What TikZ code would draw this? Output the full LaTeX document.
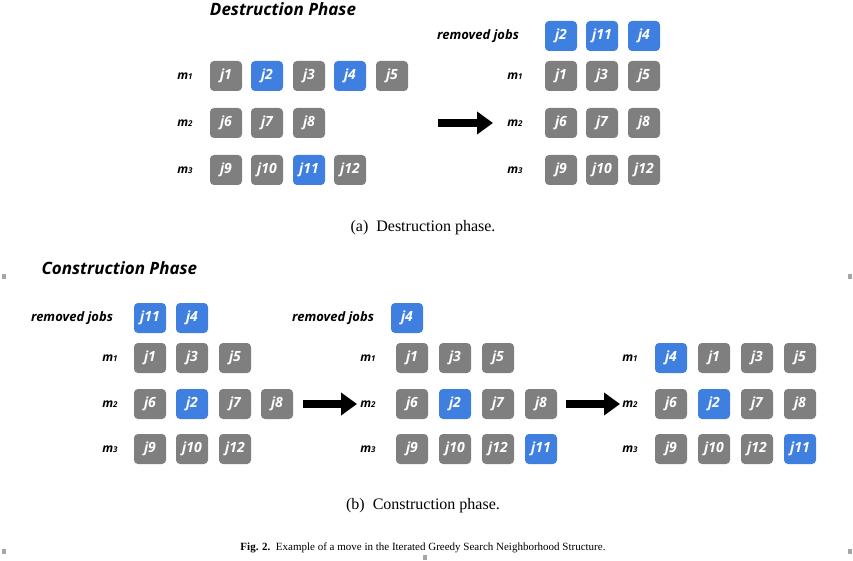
\documentclass[tikz,border=0pt]{standalone}
\usepackage{fontspec}
\setmainfont{Liberation Serif}
\newfontfamily\osans{Open Sans}
\usetikzlibrary{arrows.meta}
\definecolor{jg}{HTML}{7F7F7F}
\definecolor{jb}{HTML}{3F7FE0}
\tikzset{
 job/.style={rounded corners=4pt,minimum width=32pt,minimum height=30pt,inner sep=0pt,text=white,font=\osans\bfseries\itshape\fontsize{14}{14}\selectfont},
 g/.style={job,fill=jg}, b/.style={job,fill=jb},
 ml/.style={font=\osans\bfseries\itshape\fontsize{12}{12}\selectfont},
 rl/.style={font=\osans\bfseries\itshape\fontsize{13}{13}\selectfont},
 tl/.style={font=\osans\bfseries\itshape\fontsize{17}{17}\selectfont},
 big/.style={-{Triangle[length=16pt,width=22pt]},line width=8pt},
 mk/.style={fill=gray!70,draw=none}
}
\newcommand{\mlab}[3]{\node[ml] (#1) at (#2,#3) {m\raisebox{-0.5pt}{\fontsize{8}{8}\selectfont #1}};}
\begin{document}
\begin{tikzpicture}[x=1pt,y=-1pt]
\useasboundingbox (0,0) rectangle (853,561);
% Destruction
\node[tl] (t1) at (283,9) {Destruction Phase};
\node[ml] (am1) at (185,76) {m\raisebox{-0.5pt}{\fontsize{8}{8}\selectfont 1}};
\node[ml] (am2) at (185,123) {m\raisebox{-0.5pt}{\fontsize{8}{8}\selectfont 2}};
\node[ml] (am3) at (185,170) {m\raisebox{-0.5pt}{\fontsize{8}{8}\selectfont 3}};
\node[g] (a1) at (226,76) {j1}; \node[b] (a2) at (267,76) {j2}; \node[g] (a3) at (309,76) {j3}; \node[b] (a4) at (350,76) {j4}; \node[g] (a5) at (392,76) {j5};
\node[g] (a6) at (226,123) {j6}; \node[g] (a7) at (267,123) {j7}; \node[g] (a8) at (309,123) {j8};
\node[g] (a9) at (226,170) {j9}; \node[g] (a10) at (267,170) {j10}; \node[b] (a11) at (309,170) {j11}; \node[g] (a12) at (350,170) {j12};
\coordinate (ar1s) at (438,123); \coordinate (ar1e) at (493,123);
\draw[big] (ar1s) -- (ar1e);
\node[rl] (rr) at (478,36) {removed jobs};
\node[b] (r2) at (561,36) {j2}; \node[b] (r11) at (602,36) {j11}; \node[b] (r4) at (644,36) {j4};
\node[ml] (bm1) at (515,76) {m\raisebox{-0.5pt}{\fontsize{8}{8}\selectfont 1}};
\node[ml] (bm2) at (515,123) {m\raisebox{-0.5pt}{\fontsize{8}{8}\selectfont 2}};
\node[ml] (bm3) at (515,170) {m\raisebox{-0.5pt}{\fontsize{8}{8}\selectfont 3}};
\node[g] (b1) at (561,76) {j1}; \node[g] (b3) at (602,76) {j3}; \node[g] (b5) at (644,76) {j5};
\node[g] (b6) at (561,123) {j6}; \node[g] (b7) at (602,123) {j7}; \node[g] (b8) at (644,123) {j8};
\node[g] (b9) at (561,170) {j9}; \node[g] (b10) at (602,170) {j10}; \node[g] (b12) at (644,170) {j12};
\node[font=\fontsize{16}{16}\selectfont] (ca) at (423,228) {(a)\ \ Destruction phase.};
% Construction
\node[tl,anchor=west] (t2) at (38,268) {Construction Phase};
% panel 1
\node[rl] (p1r) at (72,318) {removed jobs};
\node[b] (c11) at (150,318) {j11}; \node[b] (c4) at (192,318) {j4};
\node[ml] (cm1) at (110,358) {m\raisebox{-0.5pt}{\fontsize{8}{8}\selectfont 1}};
\node[ml] (cm2) at (110,404) {m\raisebox{-0.5pt}{\fontsize{8}{8}\selectfont 2}};
\node[ml] (cm3) at (110,449) {m\raisebox{-0.5pt}{\fontsize{8}{8}\selectfont 3}};
\node[g] (c1) at (150,358) {j1}; \node[g] (c3) at (192,358) {j3}; \node[g] (c5) at (235,358) {j5};
\node[g] (c6) at (150,404) {j6}; \node[b] (c2) at (192,404) {j2}; \node[g] (c7) at (235,404) {j7}; \node[g] (c8) at (277,404) {j8};
\node[g] (c9) at (150,449) {j9}; \node[g] (c10) at (192,449) {j10}; \node[g] (c12) at (235,449) {j12};
\coordinate (ar2s) at (303,404); \coordinate (ar2e) at (357,404);
\draw[big] (ar2s) -- (ar2e);
% panel 2
\node[rl] (p2r) at (333,318) {removed jobs};
\node[b] (d4) at (407,318) {j4};
\node[ml] (dm1) at (368,358) {m\raisebox{-0.5pt}{\fontsize{8}{8}\selectfont 1}};
\node[ml] (dm2) at (368,404) {m\raisebox{-0.5pt}{\fontsize{8}{8}\selectfont 2}};
\node[ml] (dm3) at (368,449) {m\raisebox{-0.5pt}{\fontsize{8}{8}\selectfont 3}};
\node[g] (d1) at (412,358) {j1}; \node[g] (d3) at (455,358) {j3}; \node[g] (d5) at (498,358) {j5};
\node[g] (d6) at (412,404) {j6}; \node[b] (d2) at (455,404) {j2}; \node[g] (d7) at (498,404) {j7}; \node[g] (d8) at (541,404) {j8};
\node[g] (d9) at (412,449) {j9}; \node[g] (d10) at (455,449) {j10}; \node[g] (d12) at (498,449) {j12}; \node[b] (d11) at (541,449) {j11};
\coordinate (ar3s) at (566,404); \coordinate (ar3e) at (620,404);
\draw[big] (ar3s) -- (ar3e);
% panel 3
\node[ml] (em1) at (630,358) {m\raisebox{-0.5pt}{\fontsize{8}{8}\selectfont 1}};
\node[ml] (em2) at (630,404) {m\raisebox{-0.5pt}{\fontsize{8}{8}\selectfont 2}};
\node[ml] (em3) at (630,449) {m\raisebox{-0.5pt}{\fontsize{8}{8}\selectfont 3}};
\node[b] (e4) at (671,358) {j4}; \node[g] (e1) at (714,358) {j1}; \node[g] (e3) at (757,358) {j3}; \node[g] (e5) at (800,358) {j5};
\node[g] (e6) at (671,404) {j6}; \node[b] (e2) at (714,404) {j2}; \node[g] (e7) at (757,404) {j7}; \node[g] (e8) at (800,404) {j8};
\node[g] (e9) at (671,449) {j9}; \node[g] (e10) at (714,449) {j10}; \node[g] (e12) at (757,449) {j12}; \node[b] (e11) at (800,449) {j11};
\node[font=\fontsize{16}{16}\selectfont] (cb) at (423,506) {(b)\ \ Construction phase.};
\node[font=\fontsize{11}{11}\selectfont] (fig) at (423,548) {\textbf{Fig. 2.}\ \ Example of a move in the Iterated Greedy Search Neighborhood Structure.};
% corner marks
\fill[mk] (2,274) rectangle (6,279); \fill[mk] (848,274) rectangle (852,279);
\fill[mk] (2,549) rectangle (6,554); \fill[mk] (848,549) rectangle (852,554);
\fill[mk] (423,555) rectangle (427,560);
\end{tikzpicture}
\end{document}
